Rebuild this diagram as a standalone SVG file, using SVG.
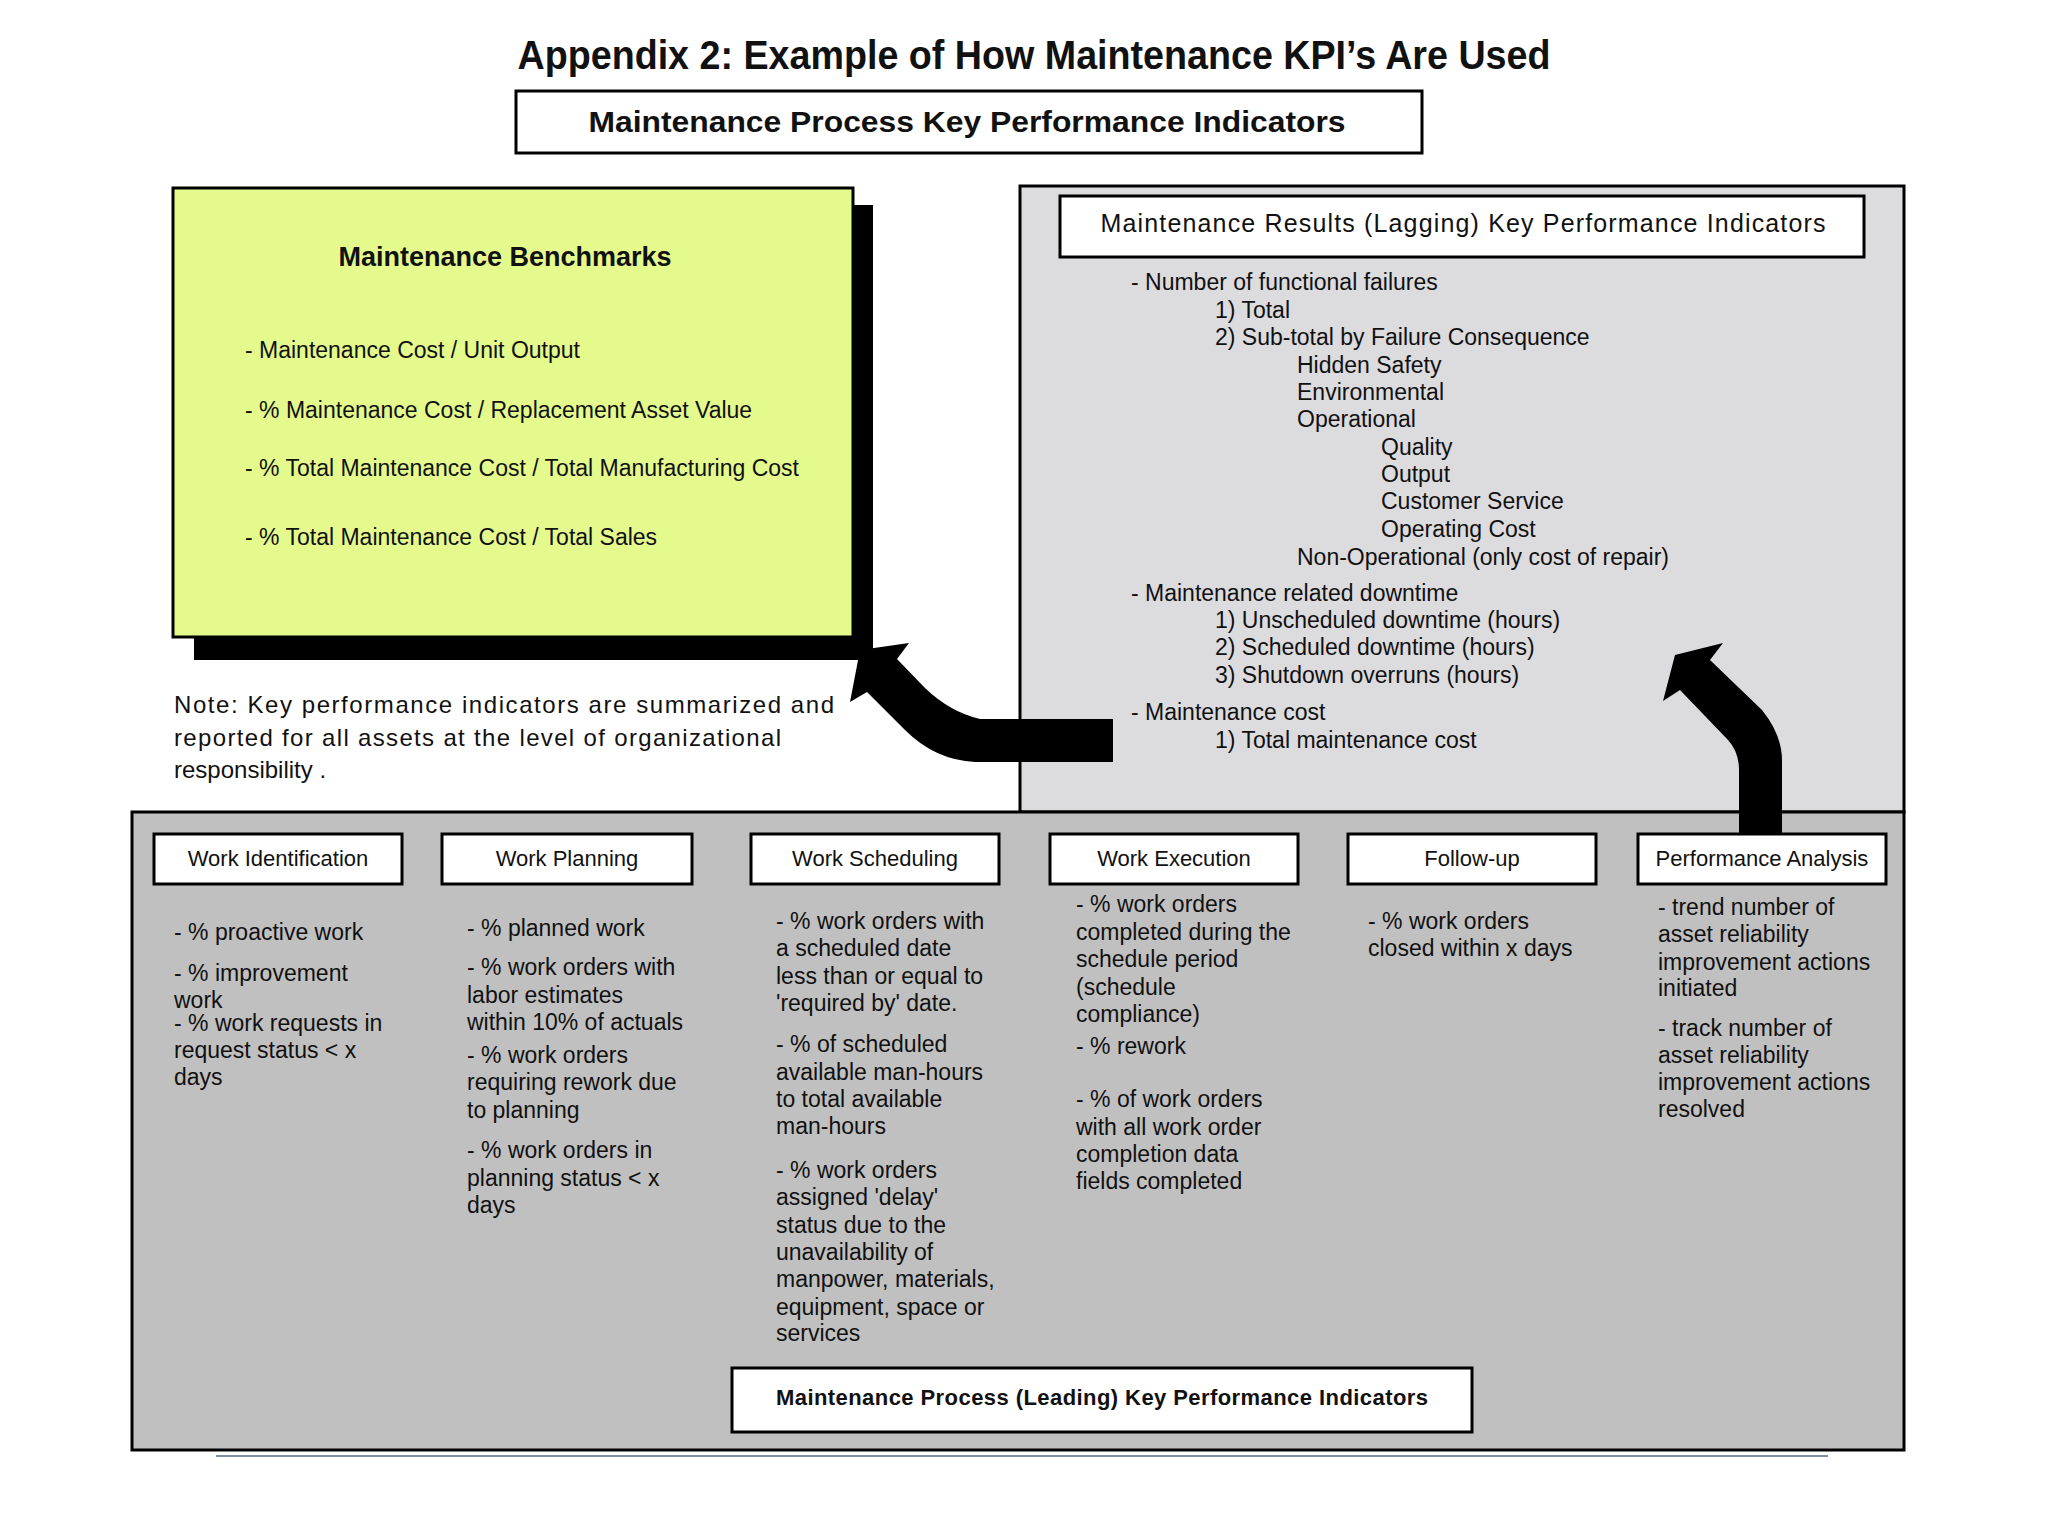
<svg xmlns="http://www.w3.org/2000/svg" width="2048" height="1536" viewBox="0 0 2048 1536">
<style>
text{font-family:"Liberation Sans",Arial,sans-serif;fill:#111}
.t{font-size:23px}
.hb{font-weight:bold}
.box{fill:#fff;stroke:#000;stroke-width:3}
.lbl{font-size:22px;text-anchor:middle}
.arrow{fill:#000;stroke:none}
</style>
<rect x="0" y="0" width="2048" height="1536" fill="#fff"/>

<g id="title">
<text x="1034" y="69" class="hb" font-size="40" text-anchor="middle" textLength="1033" lengthAdjust="spacingAndGlyphs">Appendix 2: Example of How Maintenance KPI’s Are Used</text>
</g>

<g id="process-kpi-header">
<rect class="box" x="516" y="91" width="906" height="62"/>
<text x="967" y="132" class="hb" font-size="29" text-anchor="middle" textLength="757" lengthAdjust="spacingAndGlyphs">Maintenance Process Key Performance Indicators</text>
</g>

<g id="lagging-panel">
<rect x="1020" y="186" width="884" height="626" fill="#dcdbde" stroke="#000" stroke-width="3"/>
<rect class="box" x="1060" y="196" width="804" height="61"/>
<text x="1463" y="232" font-size="25" text-anchor="middle" textLength="725" lengthAdjust="spacing">Maintenance Results (Lagging)  Key Performance Indicators</text>
<g class="t">
<text x="1131" y="290">- Number of functional failures</text>
<text x="1215" y="318">1) Total</text>
<text x="1215" y="345">2) Sub-total by Failure Consequence</text>
<text x="1297" y="373">Hidden Safety</text>
<text x="1297" y="400">Environmental</text>
<text x="1297" y="427">Operational</text>
<text x="1381" y="455">Quality</text>
<text x="1381" y="482">Output</text>
<text x="1381" y="509">Customer Service</text>
<text x="1381" y="537">Operating Cost</text>
<text x="1297" y="565">Non-Operational  (only cost of repair)</text>
<text x="1131" y="601">- Maintenance related downtime</text>
<text x="1215" y="628">1) Unscheduled downtime (hours)</text>
<text x="1215" y="655">2) Scheduled downtime (hours)</text>
<text x="1215" y="683">3) Shutdown overruns (hours)</text>
<text x="1131" y="720">- Maintenance cost</text>
<text x="1215" y="748">1) Total maintenance cost</text>
</g>
</g>

<g id="benchmarks">
<rect x="194" y="205" width="679" height="455" fill="#000"/>
<rect x="173" y="188" width="680" height="449" fill="#e4fa8c" stroke="#000" stroke-width="3"/>
<text x="505" y="266" class="hb" font-size="27" text-anchor="middle">Maintenance Benchmarks</text>
<g class="t">
<text x="245" y="358">- Maintenance  Cost / Unit Output</text>
<text x="245" y="418">- % Maintenance  Cost / Replacement  Asset Value</text>
<text x="245" y="476">- % Total Maintenance  Cost / Total Manufacturing  Cost</text>
<text x="245" y="545">- % Total Maintenance  Cost / Total Sales</text>
</g>
</g>

<g id="note">
<text x="174" y="713" font-size="24" textLength="660" lengthAdjust="spacing">Note: Key performance indicators are summarized and</text>
<text x="174" y="746" font-size="24" textLength="607" lengthAdjust="spacing">reported for all assets at the level of organizational</text>
<text x="174" y="778" font-size="24">responsibility .</text>
</g>

<g id="process-panel">
<rect x="132" y="812" width="1772" height="638" fill="#c0c0c0" stroke="#000" stroke-width="3"/>
</g>

<g id="work-identification">
<rect class="box" x="154" y="834" width="248" height="50"/>
<text class="lbl" x="278" y="866">Work Identification</text>
<g class="t">
<text x="174" y="940">- % proactive work</text>
<text x="174" y="981">- % improvement</text>
<text x="174" y="1008">work</text>
<text x="174" y="1031">- % work requests in</text>
<text x="174" y="1058">request status &lt; x</text>
<text x="174" y="1085">days</text>
</g>
</g>

<g id="work-planning">
<rect class="box" x="442" y="834" width="250" height="50"/>
<text class="lbl" x="567" y="866">Work Planning</text>
<g class="t">
<text x="467" y="936">- % planned work</text>
<text x="467" y="975">- % work orders with</text>
<text x="467" y="1003">labor estimates</text>
<text x="467" y="1030">within 10% of actuals</text>
<text x="467" y="1063">- % work orders</text>
<text x="467" y="1090">requiring rework due</text>
<text x="467" y="1118">to planning</text>
<text x="467" y="1158">- % work orders in</text>
<text x="467" y="1186">planning status &lt; x</text>
<text x="467" y="1213">days</text>
</g>
</g>

<g id="work-scheduling">
<rect class="box" x="751" y="834" width="248" height="50"/>
<text class="lbl" x="875" y="866">Work Scheduling</text>
<g class="t">
<text x="776" y="929">- % work orders with</text>
<text x="776" y="956">a scheduled date</text>
<text x="776" y="984">less than or equal to</text>
<text x="776" y="1011">'required by' date.</text>
<text x="776" y="1052">- % of scheduled</text>
<text x="776" y="1080">available man-hours</text>
<text x="776" y="1107">to total available</text>
<text x="776" y="1134">man-hours</text>
<text x="776" y="1178">- % work orders</text>
<text x="776" y="1205">assigned 'delay'</text>
<text x="776" y="1233">status due to the</text>
<text x="776" y="1260">unavailability of</text>
<text x="776" y="1287">manpower, materials,</text>
<text x="776" y="1315">equipment, space or</text>
<text x="776" y="1341">services</text>
</g>
</g>

<g id="work-execution">
<rect class="box" x="1050" y="834" width="248" height="50"/>
<text class="lbl" x="1174" y="866">Work Execution</text>
<g class="t">
<text x="1076" y="912">- % work orders</text>
<text x="1076" y="940">completed during the</text>
<text x="1076" y="967">schedule period</text>
<text x="1076" y="995">(schedule</text>
<text x="1076" y="1022">compliance)</text>
<text x="1076" y="1054">- % rework</text>
<text x="1076" y="1107">- % of work orders</text>
<text x="1076" y="1135">with all work order</text>
<text x="1076" y="1162">completion data</text>
<text x="1076" y="1189">fields completed</text>
</g>
</g>

<g id="follow-up">
<rect class="box" x="1348" y="834" width="248" height="50"/>
<text class="lbl" x="1472" y="866">Follow-up</text>
<g class="t">
<text x="1368" y="929">- % work orders</text>
<text x="1368" y="956">closed within x days</text>
</g>
</g>

<g id="performance-analysis">
<rect class="box" x="1638" y="834" width="248" height="50"/>
<text class="lbl" x="1762" y="866">Performance Analysis</text>
<g class="t">
<text x="1658" y="915">- trend number of</text>
<text x="1658" y="942">asset reliability</text>
<text x="1658" y="970">improvement actions</text>
<text x="1658" y="996">initiated</text>
<text x="1658" y="1036">- track number of</text>
<text x="1658" y="1063">asset reliability</text>
<text x="1658" y="1090">improvement actions</text>
<text x="1658" y="1117">resolved</text>
</g>
</g>

<g id="leading-label">
<rect class="box" x="732" y="1368" width="740" height="64"/>
<text x="1102" y="1405" class="hb" font-size="22" text-anchor="middle" textLength="652" lengthAdjust="spacing">Maintenance  Process  (Leading)  Key Performance  Indicators</text>
</g>

<line x1="216" y1="1456" x2="1828" y2="1456" stroke="#7f8fa6" stroke-width="2"/>

<g id="connectors">
<path class="arrow" d="M1113,719 L980,719 Q950,712 925,688 L897,659 L909,643 L860,650 L850,702 L867,692 L905,730 Q935,760 975,762 L1113,762 Z"/>
<path class="arrow" d="M1739,835 L1782,835 L1782,760 Q1782,735 1762,710 L1710,660 L1723,643 L1675,655 L1663,701 L1680,690 L1728,740 Q1739,752 1739,770 Z"/>
</g>
</svg>
